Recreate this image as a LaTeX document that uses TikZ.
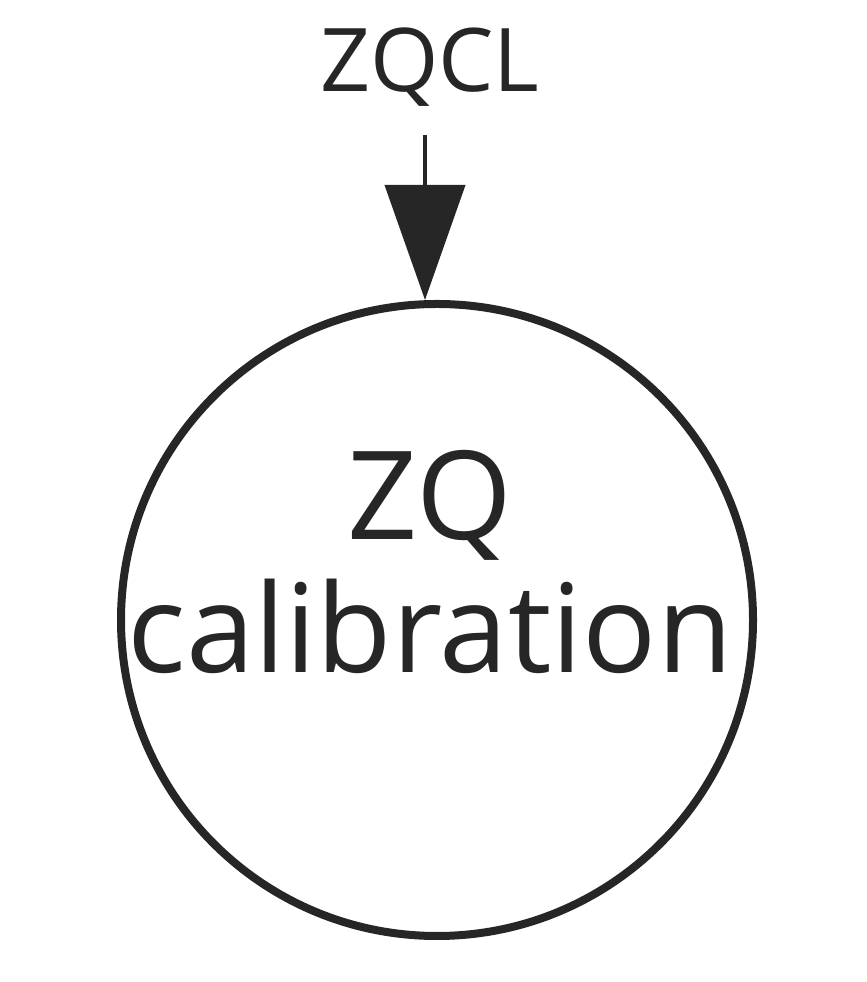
\documentclass[tikz,border=0pt]{standalone}
\usepackage{fontspec}
\setmainfont{Open Sans}
\usetikzlibrary{arrows.meta,positioning}

\begin{document}
\begin{tikzpicture}
    \tikzstyle{every node}=[font=\fontsize{50}{60}\selectfont, text=black!85]
    \useasboundingbox (0,0) rectangle (17.32,19.64);
    \node [circle, draw=black!85, line width=0.16cm, minimum size=12.64cm, inner sep=0pt] (calib) at (8.74,7.24) {};
    \node [align=center, font=\fontsize{70}{76}\selectfont] (calibtext) at (8.6,8.4) {ZQ\\calibration};
    \node (zqcl) at (8.6,18.3) {ZQCL};
    % arrow into the calibration circle
    \coordinate (feed) at (8.5,16.94);
    \draw [line width=0.08cm, -{Triangle[width=1.6cm, length=2.3cm]}, black!85] (feed) -- (feed |- calib.north);
\end{tikzpicture}
\end{document}
